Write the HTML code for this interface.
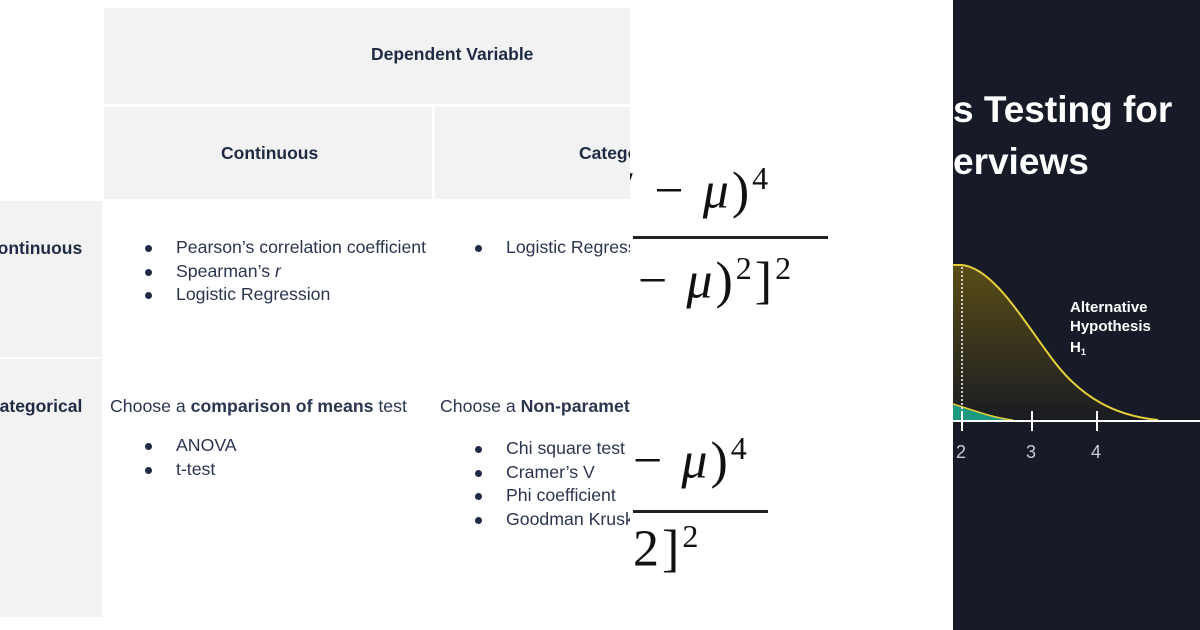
<!DOCTYPE html>
<html><head><style>
body{margin:0;width:1200px;height:630px;overflow:hidden;background:#fff;position:relative;font-family:"Liberation Sans",Arial,sans-serif;color:#1f2a44}
.a{position:absolute}
.g{background:#f2f2f2}
.b{font-weight:bold;font-size:17.5px}
.t{font-size:17.7px;color:#2a3550}
ul{margin:0;padding:0;list-style:none}
li{position:relative;padding-left:0;height:23.5px}
li:before{content:"";position:absolute;left:-31px;top:8px;width:7px;height:7px;border-radius:50%;background:#1f2a44}
.m{font-family:"Liberation Serif",serif;color:#111;font-size:52px;white-space:nowrap;letter-spacing:3px}
</style></head><body>
<div class="a g" style="left:104px;top:8px;width:526px;height:96px"></div>
<div class="a g" style="left:104px;top:107px;width:328px;height:92px"></div>
<div class="a g" style="left:435px;top:107px;width:195px;height:92px"></div>
<div class="a g" style="left:0;top:201px;width:102px;height:156px"></div>
<div class="a g" style="left:0;top:359px;width:102px;height:258px"></div>
<div class="a b" style="left:371px;top:44px">Dependent Variable</div>
<div class="a b" style="left:221px;top:143px">Continuous</div>
<div class="a b" style="left:579px;top:143px;width:51px;overflow:hidden">Categorical</div>
<div class="a b" style="left:-15px;top:238px">Continuous</div>
<div class="a b" style="left:-13px;top:396px">Categorical</div>
<ul class="a t" style="left:176px;top:237px"><li>Pearson’s correlation coefficient</li><li>Spearman’s <i>r</i></li><li>Logistic Regression</li></ul>
<ul class="a t" style="left:506px;top:237px;width:124px;overflow:visible"><li><span style="display:inline-block;width:124px;overflow:hidden;white-space:nowrap;vertical-align:top">Logistic Regression</span></li></ul>
<div class="a t" style="left:110px;top:396px">Choose a <b>comparison of means</b> test</div>
<div class="a t" style="left:440px;top:396px;width:190px;overflow:hidden;white-space:nowrap">Choose a <b>Non-parametric</b> test</div>
<ul class="a t" style="left:176px;top:435px"><li>ANOVA</li><li>t-test</li></ul>
<ul class="a t" style="left:506px;top:438px"><li>Chi square test</li><li>Cramer’s V</li><li>Phi coefficient</li><li><span style="display:inline-block;width:124px;overflow:hidden;white-space:nowrap;vertical-align:top">Goodman Kruskal</span></li></ul>
<div class="a" style="left:630px;top:0;width:323px;height:630px;background:#fff;overflow:hidden">
<div class="a m" style="left:-6px;top:160px">′ − <i>μ</i>)<sup style="font-size:32px">4</sup></div>
<div class="a" style="left:3px;top:236px;width:195px;height:3px;background:#222"></div>
<div class="a m" style="left:8px;top:250px">− <i>μ</i>)<sup style="font-size:32px">2</sup>]<sup style="font-size:32px">2</sup></div>
<div class="a m" style="left:3px;top:430px">− <i>μ</i>)<sup style="font-size:32px">4</sup></div>
<div class="a" style="left:3px;top:510px;width:135px;height:3px;background:#222"></div>
<div class="a m" style="left:3px;top:518px">2]<sup style="font-size:32px">2</sup></div>
</div>
<div class="a" style="left:953px;top:0;width:247px;height:630px;background:#161b27;overflow:hidden">
<div class="a" style="left:0px;top:84px;color:#fff;font-weight:bold;font-size:37px;line-height:52px;white-space:nowrap">s Testing for<br>erviews</div>
<svg class="a" style="left:0;top:0" width="247" height="630">
<defs><linearGradient id="y" x1="0" y1="0" x2="0" y2="1"><stop offset="0" stop-color="#5a4d16"/><stop offset="1" stop-color="#1a1c22"/></linearGradient></defs>
<path d="M0,265 L9,265 C40,268 70,320 100,360 C130,400 165,416 205,420 L0,420 Z" fill="url(#y)"/>
<path d="M0,265 L9,265 C40,268 70,320 100,360 C130,400 165,416 205,420" fill="none" stroke="#e6cf3a" stroke-width="2"/>
<path d="M0,404 C20,410 40,418 60,420 L0,420Z" fill="#1c9a80"/>
<path d="M0,404 C20,410 40,418 60,420" fill="none" stroke="#e6cf3a" stroke-width="1.5"/>
<line x1="9" y1="267" x2="9" y2="420" stroke="#fff" stroke-width="1.5" stroke-dasharray="2,2"/>
<line x1="0" y1="421" x2="247" y2="421" stroke="#fff" stroke-width="2"/>
<g stroke="#fff" stroke-width="2"><line x1="9" y1="411" x2="9" y2="431"/><line x1="79" y1="411" x2="79" y2="431"/><line x1="144" y1="411" x2="144" y2="431"/></g>
<g fill="#c9ccd4" font-size="18" font-family="Liberation Sans"><text x="3" y="458">2</text><text x="73" y="458">3</text><text x="138" y="458">4</text></g>
<g fill="#fff" font-size="15" font-weight="bold" font-family="Liberation Sans"><text x="117" y="312">Alternative</text><text x="117" y="331">Hypothesis</text><text x="117" y="352">H<tspan font-size="9" dy="3">1</tspan></text></g>
</svg></div>
</body></html>
